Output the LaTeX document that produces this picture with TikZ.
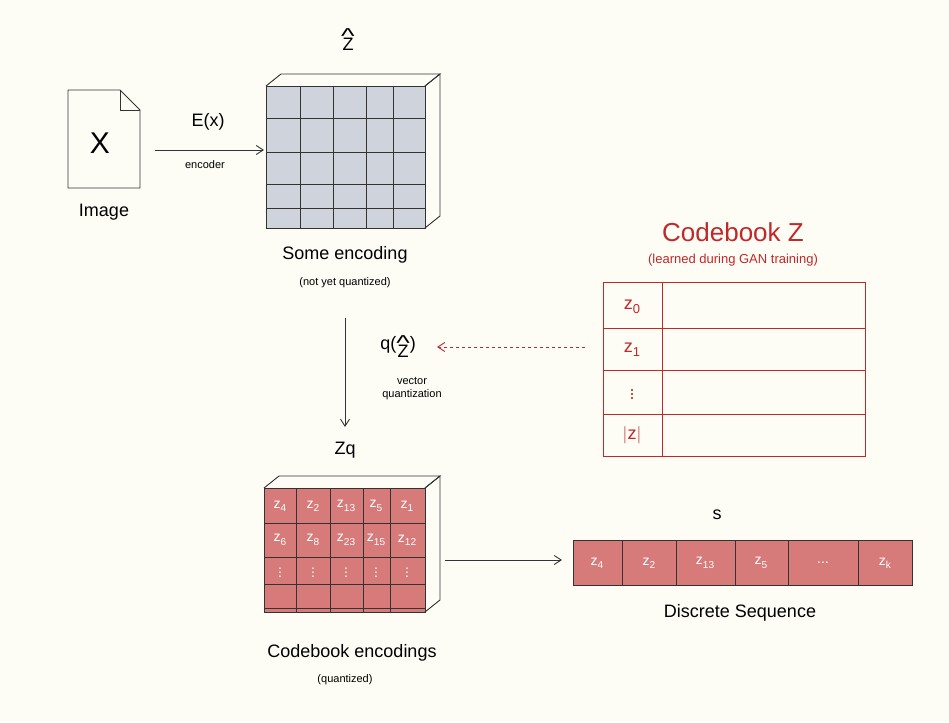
\documentclass[tikz,border=0pt]{standalone}
\usepackage{fontspec}
\setmainfont{Liberation Sans}
\usetikzlibrary{arrows.meta}
\definecolor{bg}{HTML}{FDFDF6}
\definecolor{cell}{HTML}{CED3DC}
\definecolor{qcell}{HTML}{D77A7A}
\definecolor{cbred}{HTML}{C0282A}
\newcommand\zsb[1]{z\raisebox{-0.45ex}{\fontsize{0.72em}{1em}\selectfont #1}}
\newcommand\zhat{\begin{tabular}{@{}c@{}}\raisebox{-1.1ex}[1ex][0pt]{\scalebox{1.6}[1.2]{\^{}}}\\[-0.3ex]Z\end{tabular}}
\begin{document}
\begin{tikzpicture}[x=1pt,y=-1pt,
  lbl/.style={font=\fontsize{18}{20}\selectfont,inner sep=1pt},
  small/.style={font=\fontsize{11}{13}\selectfont,inner sep=1pt},
  ln/.style={draw=black!80,line width=0.9pt},
  arr/.style={ln,-{Straight Barb[length=7pt,width=9pt]}},
  wtxt/.style={text=white,font=\fontsize{14}{16}\selectfont,inner sep=1pt},
  rtxt/.style={text=cbred,font=\fontsize{18}{20}\selectfont,inner sep=1pt}]
\fill[bg] (0,0) rectangle (949,722);
\useasboundingbox (0,0) rectangle (949,722);
% document icon
\draw[ln] (68,90) -- (120,90) -- (140,110) -- (140,188) -- (68,188) -- cycle;
\draw[ln] (120,90) -- (120,110) -- (140,110);
\node[font=\fontsize{30}{32}\selectfont] (x) at (100,143) {X};
\node[lbl] (img) at (104,212) {Image};
% encoder arrow
\coordinate (e1) at (155,150); \coordinate (e2) at (264,150);
\draw[arr] (e1) -- (e2);
\node[lbl] (ex) at (208,122) {E(x)};
\node[small] (enc) at (205,165) {encoder};
% encoding cube
\node[lbl] (zh) at (348,38) {\zhat};
\fill[cell] (266,86) rectangle (425,228);
\draw[ln] (266,86) -- (281,74) -- (440,74) -- (425,86);
\draw[ln] (425,86) -- (440,74) -- (440,216) -- (425,228);
\draw[ln] (266,86) rectangle (425,228);
\foreach \xx in {300,333,366,393} \draw[ln] (\xx,86) -- (\xx,228);
\foreach \yy in {118,152,184,208} \draw[ln] (266,\yy) -- (425,\yy);
\node[lbl] (se) at (345,255) {Some encoding};
\node[small] (nq) at (345,283) {(not yet quantized)};
% quantization arrow
\coordinate (q1) at (345,318); \coordinate (q2) at (345,427);
\draw[arr] (q1) -- (q2);
\node[lbl] (qz) at (398,345) {q(\zhat)};
\node[small,align=center] (vq) at (412,389) {vector\\quantization};
% codebook
\node[rtxt,font=\fontsize{26}{28}\selectfont] (cbt) at (733,232) {Codebook Z};
\node[rtxt,font=\fontsize{13}{15}\selectfont] (cbs) at (733,260) {(learned during GAN training)};
\draw[cbred,line width=0.8pt] (603,282) rectangle (865,456);
\foreach \yy in {328,370,414} \draw[cbred,line width=0.8pt] (603,\yy) -- (865,\yy);
\draw[cbred,line width=0.8pt] (662,282) -- (662,456);
\node[rtxt] (c0) at (632,307) {\zsb{0}};
\node[rtxt] (c1) at (632,350) {\zsb{1}};
\node[rtxt] (c2) at (632,392) {$\vdots$};
\node[rtxt] (c3) at (632,435) {$|$z$|$};
\coordinate (d1) at (585,347); \coordinate (d2) at (437,347);
\draw[cbred,line width=0.9pt,dashed,-{Straight Barb[length=7pt,width=9pt]}] (d1) -- (d2);
% quantized cube
\node[lbl] (zq) at (345,450) {Zq};
\fill[qcell] (264,488) rectangle (425,612);
\draw[ln] (264,488) -- (279,476) -- (440,476) -- (425,488);
\draw[ln] (425,488) -- (440,476) -- (440,600) -- (425,612);
\draw[ln] (264,488) rectangle (425,612);
\foreach \xx in {296,330,363,390} \draw[ln] (\xx,488) -- (\xx,612);
\foreach \yy in {523,557,584,608} \draw[ln] (264,\yy) -- (425,\yy);
\node[wtxt] (a1) at (280,506) {\zsb{4}};
\node[wtxt] (a2) at (313,506) {\zsb{2}};
\node[wtxt] (a3) at (346,506) {\zsb{13}};
\node[wtxt] (a4) at (376,506) {\zsb{5}};
\node[wtxt] (a5) at (407,506) {\zsb{1}};
\node[wtxt] (b1) at (280,540) {\zsb{6}};
\node[wtxt] (b2) at (313,540) {\zsb{8}};
\node[wtxt] (b3) at (346,540) {\zsb{23}};
\node[wtxt] (b4) at (376,540) {\zsb{15}};
\node[wtxt] (b5) at (407,540) {\zsb{12}};
\node[wtxt] (v1) at (280,570) {$\vdots$};
\node[wtxt] (v2) at (313,570) {$\vdots$};
\node[wtxt] (v3) at (346,570) {$\vdots$};
\node[wtxt] (v4) at (376,570) {$\vdots$};
\node[wtxt] (v5) at (407,570) {$\vdots$};
\node[lbl] (ce) at (352,653) {Codebook encodings};
\node[small] (qd) at (345,680) {(quantized)};
% sequence
\coordinate (s1) at (445,560); \coordinate (s2) at (562,560);
\draw[arr] (s1) -- (s2);
\node[lbl] (s) at (717,515) {s};
\fill[qcell] (573,540) rectangle (912,585);
\draw[ln] (573,540) rectangle (912,585);
\foreach \xx in {622,676,735,788,858} \draw[ln] (\xx,540) -- (\xx,585);
\node[wtxt] (q1n) at (597,563) {\zsb{4}};
\node[wtxt] (q2n) at (649,563) {\zsb{2}};
\node[wtxt] (q3n) at (705,563) {\zsb{13}};
\node[wtxt] (q4n) at (761,563) {\zsb{5}};
\node[wtxt] (q5n) at (823,563) {...};
\node[wtxt] (q6n) at (885,563) {\zsb{k}};
\node[lbl] (ds) at (740,613) {Discrete Sequence};
\end{tikzpicture}
\end{document}
